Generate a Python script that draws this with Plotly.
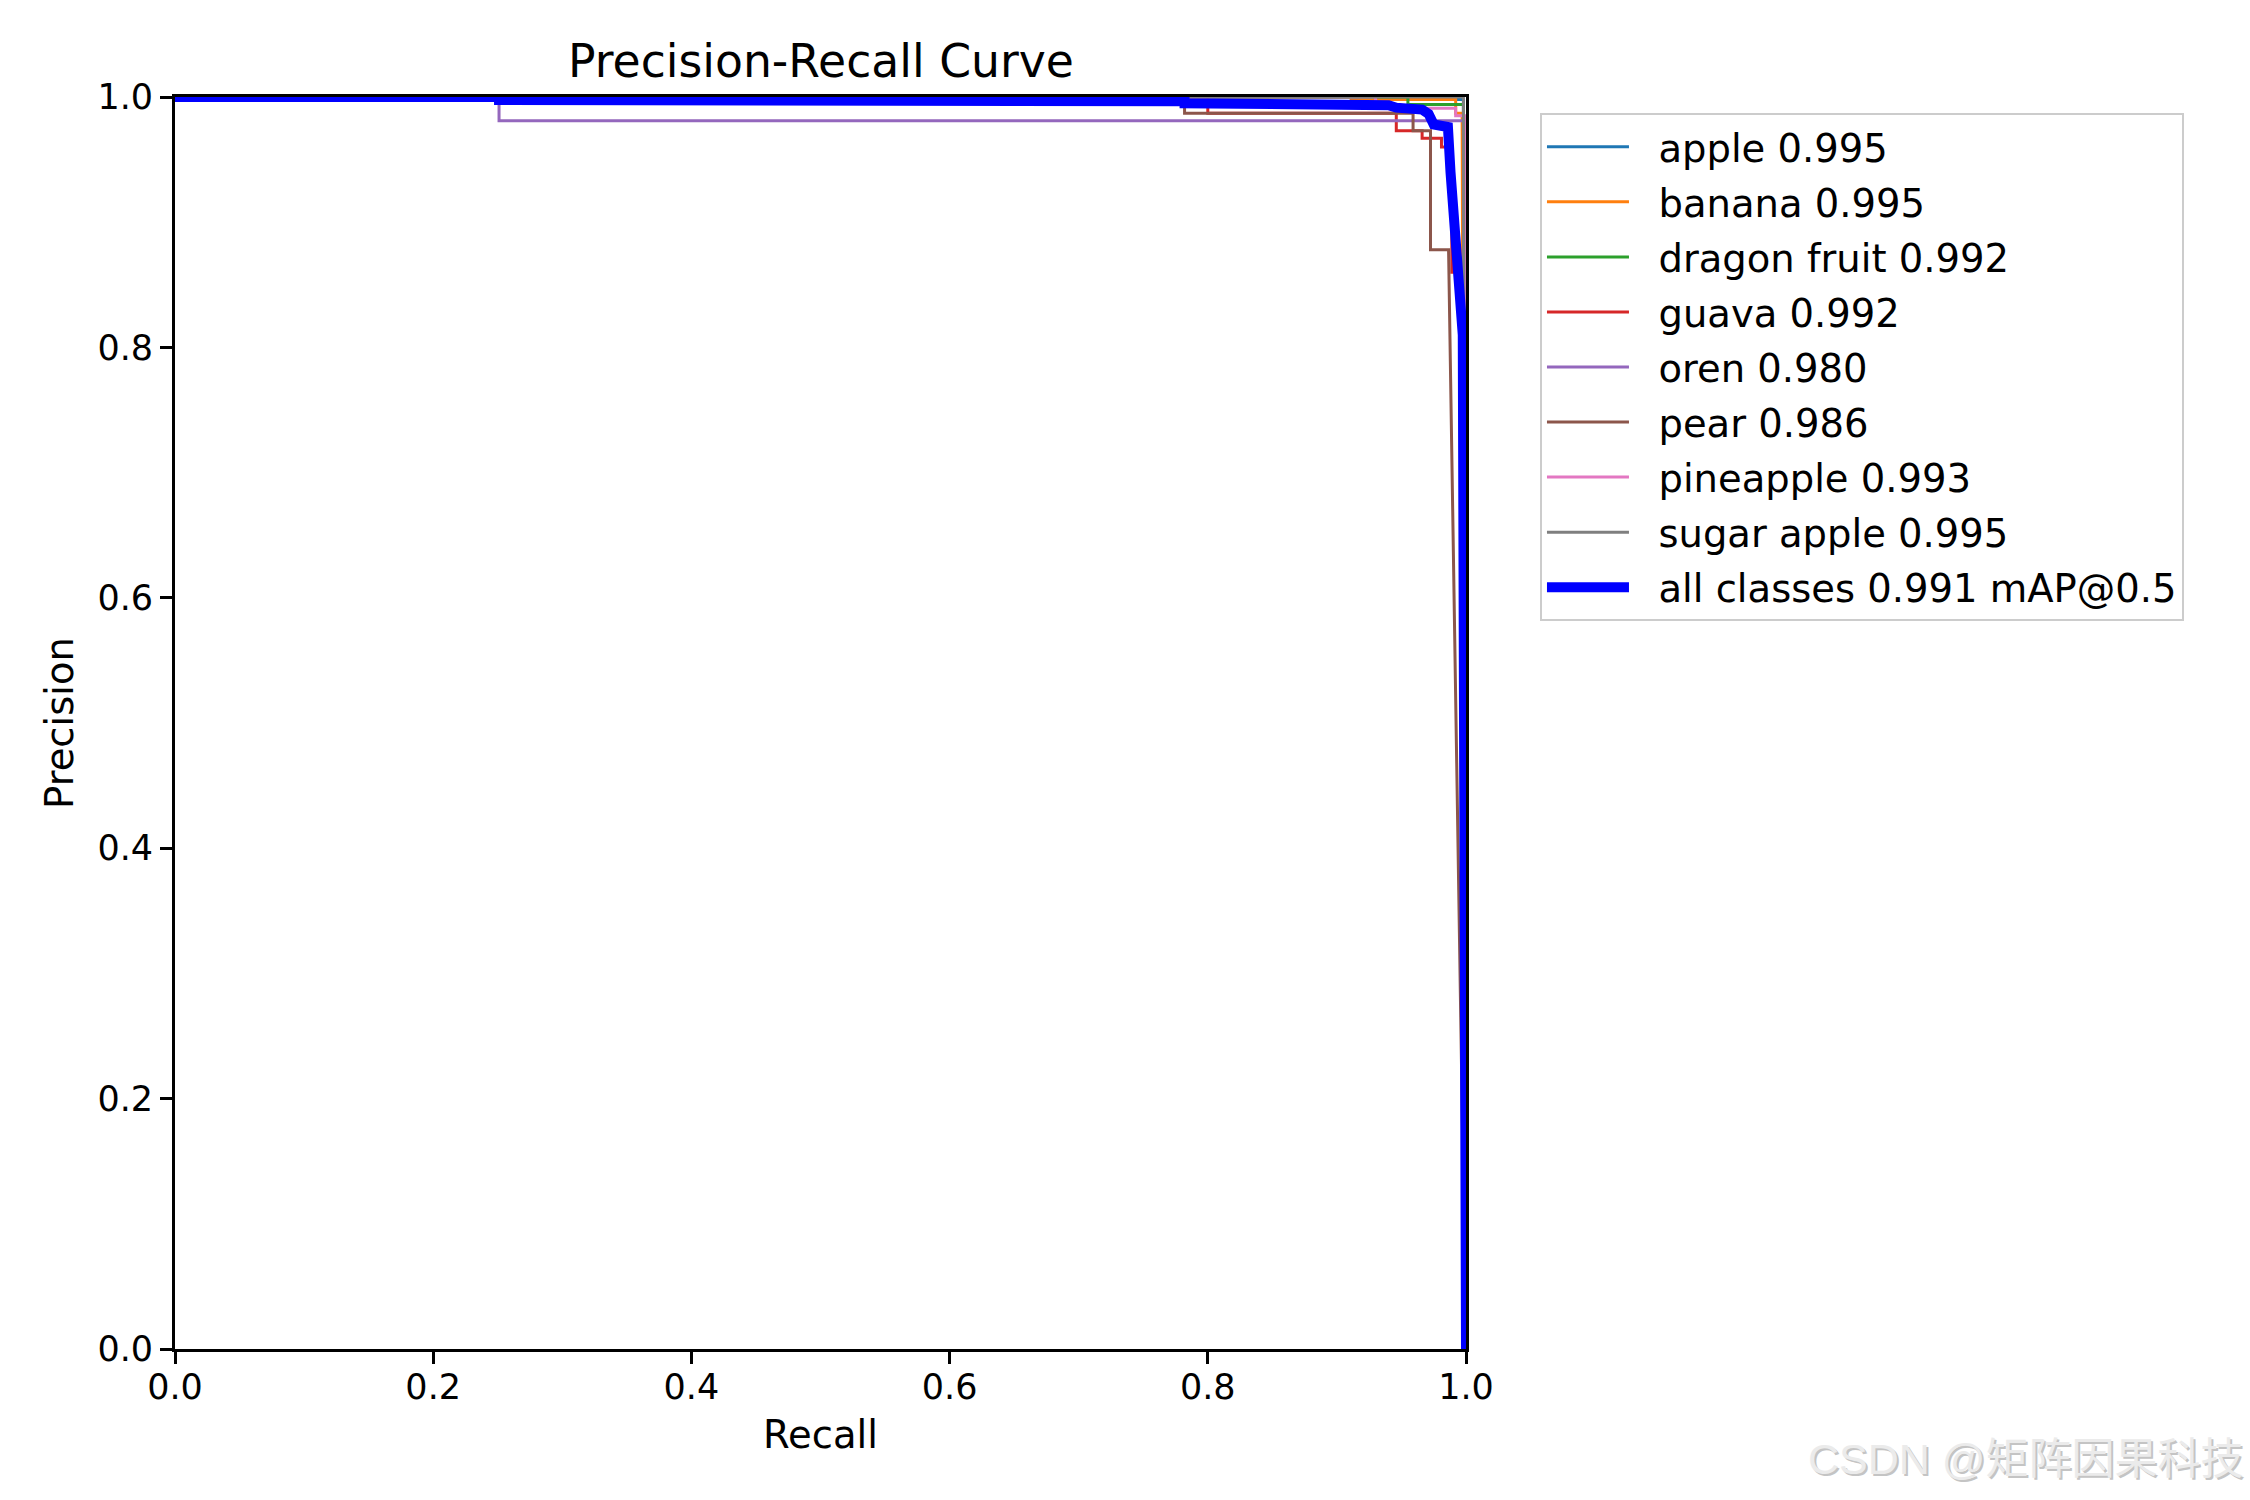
import plotly.graph_objects as go

# ---------------- data ----------------
class_names = ["apple 0.995", "banana 0.995", "dragon fruit 0.992", "guava 0.992",
               "oren 0.980", "pear 0.986", "pineapple 0.993", "sugar apple 0.995"]
class_colors = ["#1f77b4", "#ff7f0e", "#2ca02c", "#d62728",
                "#9467bd", "#8c564b", "#e377c2", "#7f7f7f"]

apple_r = [0.0, 0.981, 0.981, 0.998, 1.0]
apple_p = [1.0, 1.0, 0.998, 0.998, 0.0]

banana_r = [0.0, 0.911, 0.911, 0.992, 0.992, 0.997, 1.0]
banana_p = [1.0, 1.0, 0.998, 0.998, 0.987, 0.987, 0.0]

dragon_r = [0.0, 0.955, 0.955, 0.998, 1.0]
dragon_p = [1.0, 1.0, 0.994, 0.994, 0.0]

guava_r = [0.0, 0.80, 0.80, 0.946, 0.946, 0.966, 0.966, 0.981, 0.981, 0.989, 0.989, 0.995, 0.995, 1.0]
guava_p = [1.0, 1.0, 0.987, 0.987, 0.973, 0.973, 0.967, 0.967, 0.960, 0.960, 0.860, 0.860, 0.831, 0.0]

oren_r = [0.0, 0.251, 0.251, 0.998, 1.0]
oren_p = [1.0, 1.0, 0.981, 0.981, 0.0]

pear_r = [0.0, 0.782, 0.782, 0.959, 0.959, 0.9725, 0.9725, 0.9865, 1.0]
pear_p = [1.0, 1.0, 0.987, 0.987, 0.973, 0.973, 0.878, 0.878, 0.0]

pineapple_r = [0.0, 0.93, 0.93, 0.992, 0.992, 0.999, 1.0]
pineapple_p = [1.0, 1.0, 0.991, 0.991, 0.985, 0.985, 0.0]

sugar_r = [0.0, 0.998, 1.0]
sugar_p = [1.0, 1.0, 0.0]

all_label = "all classes 0.991 mAP@0.5"
all_r = [0.0, 0.251, 0.251, 0.476, 0.476, 0.782, 0.782, 0.897, 0.897, 0.94, 0.946, 0.966,
         0.971, 0.975, 0.986, 0.988, 0.9975, 0.999, 1.0]
all_p = [1.0, 1.0, 0.9976, 0.9976, 0.9966, 0.9966, 0.995, 0.995, 0.9942, 0.9935, 0.9915, 0.990,
         0.9865, 0.978, 0.976, 0.94, 0.81, 0.40, 0.0]

tick_vals = [0.0, 0.2, 0.4, 0.6, 0.8, 1.0]
tick_text = ["0.0", "0.2", "0.4", "0.6", "0.8", "1.0"]

class_recalls = [apple_r, banana_r, dragon_r, guava_r, oren_r, pear_r, pineapple_r, sugar_r]
class_precisions = [apple_p, banana_p, dragon_p, guava_p, oren_p, pear_p, pineapple_p, sugar_p]

# ---------------- figure ----------------
W, H = 2250, 1500
L, R, T, B = 175, 784, 97, 151
FONT = "DejaVu Sans"
GAP = "\u00a0\u00a0"   # visual gap between legend handle and label

fig = go.Figure()
for i, (name, col, rr, pp) in enumerate(zip(class_names, class_colors, class_recalls, class_precisions)):
    fig.add_trace(go.Scatter(x=rr, y=pp, mode="lines", name=GAP + name,
                             line=dict(color=col, width=3), legendgroup=f"g{i}"))
fig.add_trace(go.Scatter(x=all_r, y=all_p, mode="lines", name=GAP + all_label,
                         line=dict(color="#0000ff", width=10), legendgroup="gall"))

axis_common = dict(
    range=[0, 1], tickvals=tick_vals, ticktext=tick_text,
    showgrid=False, zeroline=False,
    showline=True, linecolor="black", linewidth=2.8, mirror=True,
    ticks="outside", ticklen=12, tickwidth=2.8, tickcolor="black",
    tickfont=dict(family=FONT, size=35, color="black"),
    title_font=dict(family=FONT, size=38.5, color="black"),
)

fig.update_layout(
    width=W, height=H,
    margin=dict(l=L, r=R, t=T, b=B, autoexpand=False),
    paper_bgcolor="white", plot_bgcolor="white",
    font=dict(family=FONT, size=35, color="black"),
    showlegend=True,
    legend=dict(x=1.0573, y=0.987, xanchor="left", yanchor="top",
                font=dict(family=FONT, size=38.5, color="black"),
                bgcolor="rgba(255,255,255,0.8)", bordercolor="#cccccc", borderwidth=2,
                itemwidth=82, tracegroupgap=2, traceorder="grouped"),
    xaxis=dict(axis_common, ticklabelstandoff=-7, title=dict(text="Recall", standoff=16)),
    yaxis=dict(axis_common, title=dict(text="Precision", standoff=12)),
)

fig.add_annotation(text="Precision-Recall Curve", xref="paper", yref="paper",
                   x=0.5, y=1.0, xanchor="center", yanchor="bottom", yshift=7,
                   showarrow=False, font=dict(family=FONT, size=45.7, color="black"))

# watermark
wm = "CSDN @矩阵因果科技"
wx = (2245 - L) / (W - L - R)
wy = (H - B - 1459) / (H - T - B)
fig.add_annotation(text=wm, xref="paper", yref="paper", x=wx, y=wy, xanchor="right", yanchor="middle",
                   xshift=1.5, yshift=-1.5, showarrow=False,
                   font=dict(family="Liberation Sans, Noto Sans CJK SC", size=43, color="#c4c4c4"))
fig.add_annotation(text=wm, xref="paper", yref="paper", x=wx, y=wy, xanchor="right", yanchor="middle",
                   showarrow=False,
                   font=dict(family="Liberation Sans, Noto Sans CJK SC", size=43, color="#ebebeb"))

fig.write_html("out.html")
